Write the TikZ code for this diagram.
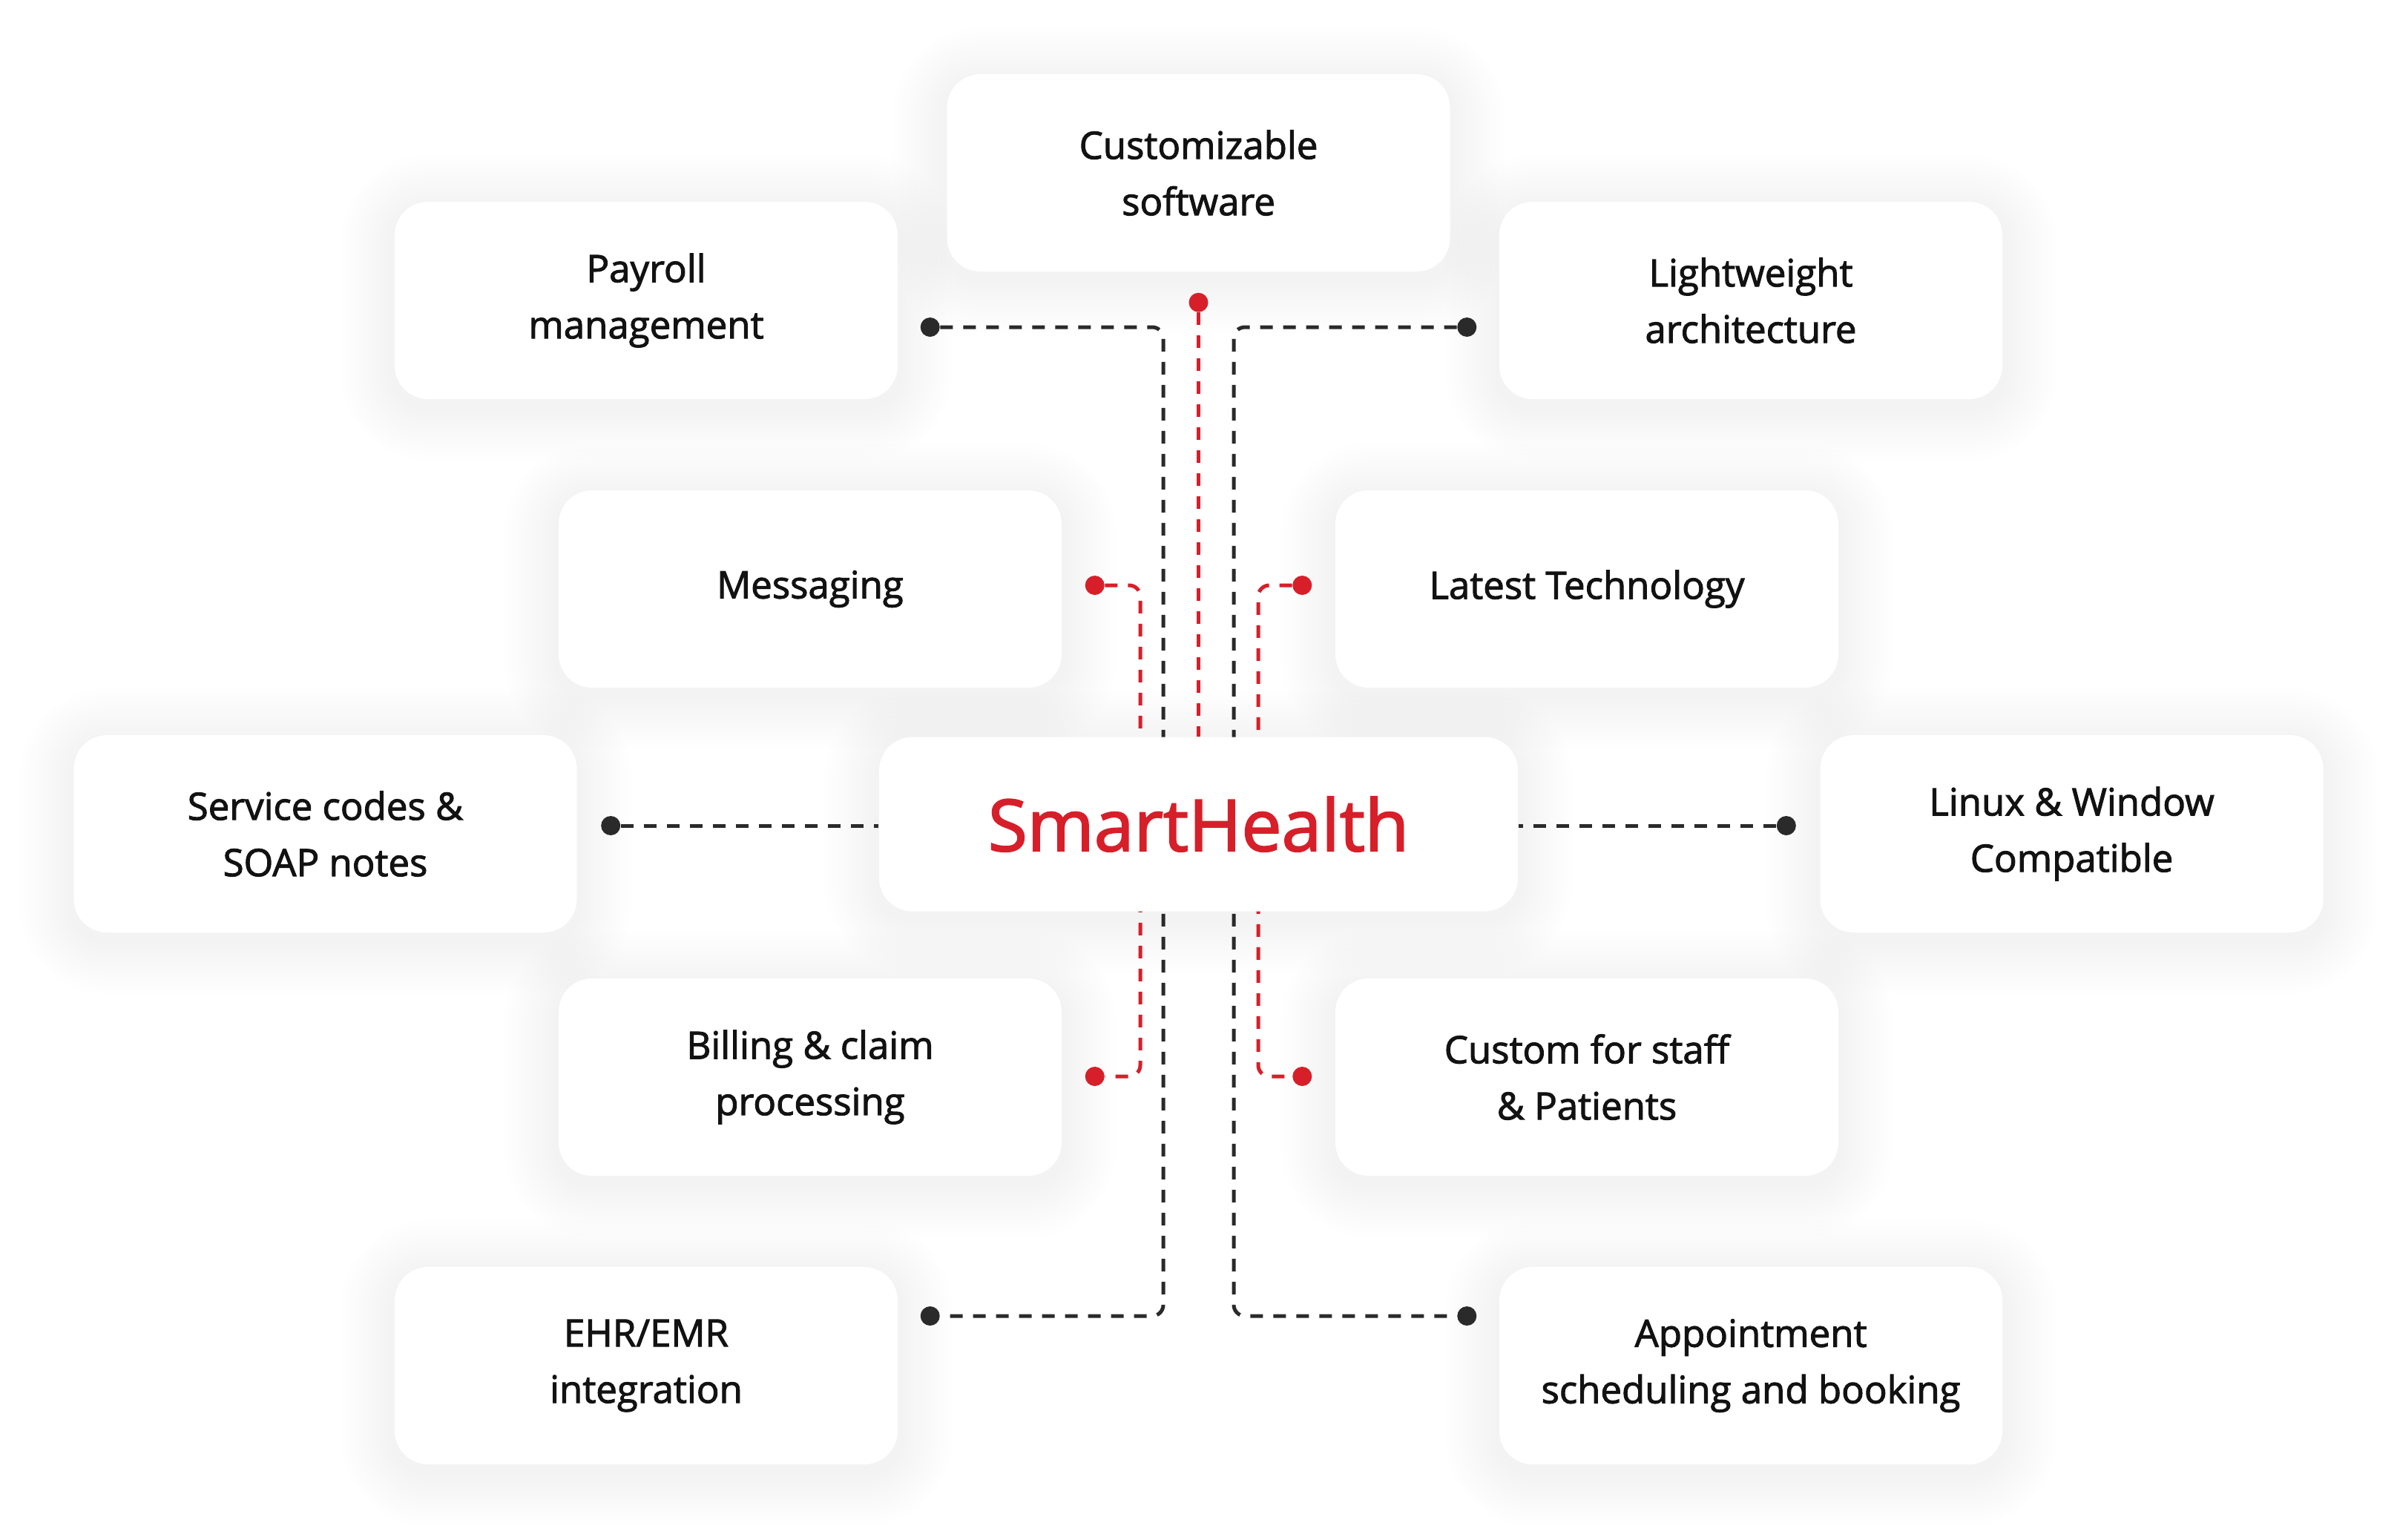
\documentclass[tikz,border=0pt]{standalone}
\usepackage{fontspec}
\setmainfont{Open Sans}
\usetikzlibrary{positioning, calc}
\definecolor{healthRed}{HTML}{D71F2A}
\definecolor{linkGray}{HTML}{2A2A2A}
\pgfdeclarelayer{background}
\pgfdeclarelayer{front}
\pgfsetlayers{background,main,front}
\tikzset{
  card/.style = {
    fill=white,
    rounded corners=.45cm,
    minimum width=6.78cm,
    minimum height=2.66cm,
    align=center,
    text=black!93,
    font=\fontsize{14.5}{21.6}\selectfont\addfontfeature{FakeBold=2},
  },
  hub/.style = {
    card,
    minimum width=8.61cm,
    minimum height=2.35cm,
    text=healthRed,
    font=\fontsize{27.5}{33}\selectfont\addfontfeature{FakeBold=2},
  },
  dot/.style = {
    circle,
    fill=linkGray,
    inner sep=0,
    minimum size=.26cm,
  },
  redDot/.style = {
    dot,
    fill=healthRed,
  },
  link/.style = {
    draw=linkGray,
    line width=.05cm,
    dash pattern=on .17cm off .14cm,
    rounded corners=.15cm,
  },
  redLink/.style = {
    link,
    draw=healthRed,
  },
}
% soft shadow round a card
\newcommand{\softShadow}[1]{
  \foreach \g in {1,...,12} {
    \fill[black, opacity=.0045, rounded corners=.45cm+\g*.06cm]
      ($(#1.south west) + (-\g*.06, -\g*.06 - .1)$) rectangle
      ($(#1.north east) + (\g*.06, \g*.06 - .1)$);
  }
}

\begin{document}
\begin{tikzpicture}

% feature cards
\node(Software)[card] at (16.155,-2.33) {Customizable\\software};
\node(Payroll)[card] at (8.71,-4.05) {Payroll\\management};
\node(Lightweight)[card] at (23.60,-4.05) {Lightweight\\architecture};
\node(Messaging)[card] at (10.92,-7.94) {Messaging};
\node(Technology)[card] at (21.39,-7.94) {Latest Technology};
\node(Codes)[card] at (4.385,-11.24) {Service codes \&\\SOAP notes};
\node(Linux)[card] at (27.925,-11.24) {Linux \& Window\\Compatible};
\node(Billing)[card] at (10.92,-14.52) {Billing \& claim\\processing};
\node(Staff)[card] at (21.39,-14.52) {Custom for staff\\\& Patients};
\node(EHR)[card] at (8.71,-18.41) {EHR/EMR\\integration};
\node(Appointment)[card] at (23.60,-18.41) {Appointment\\scheduling and booking};

\begin{pgfonlayer}{front}
\node(SmartHealth)[hub] at (16.155,-11.11) {SmartHealth};
\end{pgfonlayer}

\begin{pgfonlayer}{background}
\fill[white] (0,0) rectangle (32.31,-20.75);
\foreach \card in {Software, Payroll, Lightweight, Messaging, Technology,
                   Codes, Linux, Billing, Staff, EHR, Appointment, SmartHealth}
  {\softShadow{\card}}
\end{pgfonlayer}

% end points
\node(SoftwareDot)[redDot] at ($(Software.south) + (0,-.41)$) {};
\node(PayrollDot)[dot] at ($(Payroll.east) + (.43,-.36)$) {};
\node(LightweightDot)[dot] at ($(Lightweight.west) + (-.43,-.36)$) {};
\node(MessagingDot)[redDot] at ($(Messaging.east) + (.44,.05)$) {};
\node(TechnologyDot)[redDot] at ($(Technology.west) + (-.44,.05)$) {};
\node(CodesDot)[dot] at ($(Codes.east) + (.45,.11)$) {};
\node(LinuxDot)[dot] at ($(Linux.west) + (-.45,.11)$) {};
\node(BillingDot)[redDot] at ($(Billing.east) + (.44,.01)$) {};
\node(StaffDot)[redDot] at ($(Staff.west) + (-.44,.01)$) {};
\node(EHRDot)[dot] at ($(EHR.east) + (.43,.67)$) {};
\node(AppointmentDot)[dot] at ($(Appointment.west) + (-.43,.67)$) {};

% rails behind the hub
\coordinate(railL) at (15.68,0);
\coordinate(railR) at (16.63,0);
\coordinate(redRailL) at (15.37,0);
\coordinate(redRailR) at (16.96,0);

\draw[link] (PayrollDot) -| (EHRDot -| railL) -- (EHRDot);
\draw[link] (LightweightDot) -| (AppointmentDot -| railR) -- (AppointmentDot);
\draw[redLink] (MessagingDot) -| (BillingDot -| redRailL) -- (BillingDot);
\draw[redLink] (TechnologyDot) -| (StaffDot -| redRailR) -- (StaffDot);
\draw[redLink] (SoftwareDot) -- (SoftwareDot |- SmartHealth.north);
\draw[link] (CodesDot) -- (CodesDot -| SmartHealth.west);
\draw[link] (LinuxDot) -- (LinuxDot -| SmartHealth.east);

\end{tikzpicture}
\end{document}
